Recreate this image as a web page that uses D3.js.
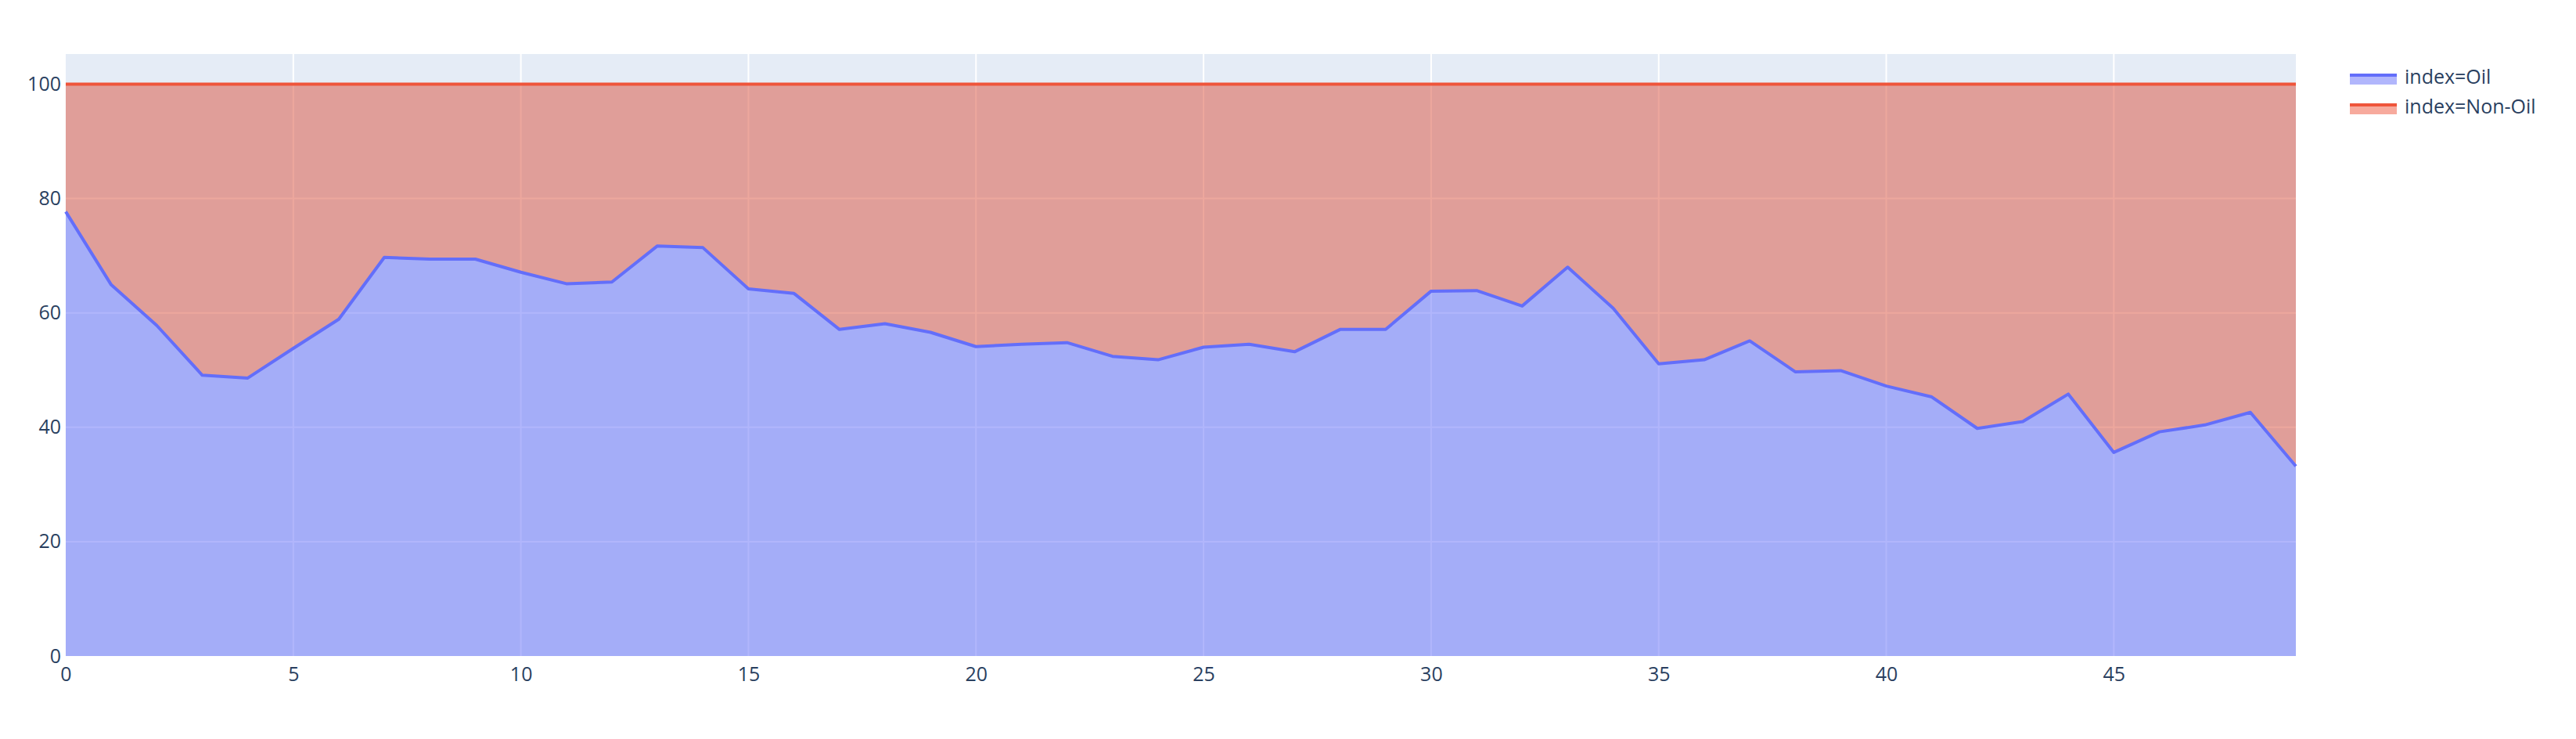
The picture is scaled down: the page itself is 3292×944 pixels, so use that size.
<!DOCTYPE html>
<html>
<head>
<meta charset="utf-8">
<script src="https://cdn.jsdelivr.net/npm/d3@7"></script>
<style>
  body { margin: 0; background: #fff; }
  text { font-family: "Open Sans", Arial, sans-serif; fill: #2a3f5f; }
</style>
</head>
<body>
<svg width="3292" height="944"></svg>
<script>
var oilShare = [77.7, 64.9, 57.8, 49.1, 48.6, 53.8, 58.9, 69.7, 69.4, 69.4,
  67.1, 65.1, 65.4, 71.7, 71.4, 64.2, 63.4, 57.1, 58.1, 56.6,
  54.1, 54.5, 54.8, 52.4, 51.8, 54.0, 54.5, 53.2, 57.1, 57.1,
  63.8, 63.9, 61.2, 68.0, 60.8, 51.1, 51.8, 55.1, 49.7, 49.9,
  47.2, 45.3, 39.8, 41.0, 45.8, 35.6, 39.2, 40.4, 42.6, 33.2];
var nonOilShare = oilShare.map(function(v) { return 100 - v; });
var seriesNames = ['index=Oil', 'index=Non-Oil'];
var xTicks = [0, 5, 10, 15, 20, 25, 30, 35, 40, 45];
var yTicks = [0, 20, 40, 60, 80, 100];

var LEFT = 84, RIGHT = 2934, TOP = 69, BOTTOM = 838;
var svg = d3.select('svg');

var x = d3.scaleLinear().domain([0, oilShare.length - 1]).range([LEFT, RIGHT]);
var y = d3.scaleLinear().domain([0, 105.26]).range([BOTTOM, TOP]);

svg.append('rect')
  .attr('x', LEFT).attr('y', TOP)
  .attr('width', RIGHT - LEFT).attr('height', BOTTOM - TOP)
  .attr('fill', '#E5ECF6');

// gridlines
svg.append('g').selectAll('line').data(xTicks.slice(1)).enter().append('line')
  .attr('x1', x).attr('x2', x).attr('y1', TOP).attr('y2', BOTTOM)
  .attr('stroke', '#fff').attr('stroke-width', 2);
svg.append('g').selectAll('line').data(yTicks.slice(1)).enter().append('line')
  .attr('y1', y).attr('y2', y).attr('x1', LEFT).attr('x2', RIGHT)
  .attr('stroke', '#fff').attr('stroke-width', 2);

var rows = oilShare.map(function(v, i) { return { i: i, oil: v, non: nonOilShare[i] }; });

var oilArea = d3.area().x(function(d) { return x(d.i); })
  .y0(y(0)).y1(function(d) { return y(d.oil); });
var nonArea = d3.area().x(function(d) { return x(d.i); })
  .y0(function(d) { return y(d.oil); }).y1(function(d) { return y(d.oil + d.non); });

svg.append('path').datum(rows).attr('d', oilArea).attr('fill', 'rgba(99,110,250,0.5)');
svg.append('path').datum(rows).attr('d', nonArea).attr('fill', 'rgba(220,80,60,0.5)');

svg.append('path').datum(rows)
  .attr('d', d3.line().x(function(d) { return x(d.i); }).y(function(d) { return y(d.oil + d.non); }))
  .attr('fill', 'none').attr('stroke', '#EF553B').attr('stroke-width', 4);
svg.append('path').datum(rows)
  .attr('d', d3.line().x(function(d) { return x(d.i); }).y(function(d) { return y(d.oil); }))
  .attr('fill', 'none').attr('stroke', '#636efa').attr('stroke-width', 4)
  .attr('stroke-linejoin', 'round');

// axes
var xAxis = svg.append('g').attr('transform', 'translate(0,' + BOTTOM + ')')
  .call(d3.axisBottom(x).tickValues(xTicks).tickSize(0).tickPadding(14));
xAxis.select('.domain').remove();
xAxis.selectAll('text').style('font-size', '25px').attr('fill', '#2a3f5f');

var yAxis = svg.append('g').attr('transform', 'translate(' + LEFT + ',0)')
  .call(d3.axisLeft(y).tickValues(yTicks).tickSize(0).tickPadding(6));
yAxis.select('.domain').remove();
yAxis.selectAll('text').style('font-size', '25px').attr('fill', '#2a3f5f');

// legend
var legendColors = [['#636efa', 'rgba(99,110,250,0.5)'], ['#EF553B', 'rgba(239,85,59,0.5)']];
var legend = svg.append('g').selectAll('g').data(seriesNames).enter().append('g')
  .attr('transform', function(d, i) { return 'translate(3003,' + (98 + i * 38) + ')'; });
legend.append('rect').attr('x', 0).attr('y', -1).attr('width', 60).attr('height', 11)
  .attr('fill', function(d, i) { return legendColors[i][1]; });
legend.append('line').attr('x1', 0).attr('x2', 60).attr('y1', -2).attr('y2', -2)
  .attr('stroke', function(d, i) { return legendColors[i][0]; }).attr('stroke-width', 4);
legend.append('text').attr('x', 70).attr('y', 0).attr('dy', '0.35em')
  .style('font-size', '25px').text(function(d) { return d; });
</script>
</body>
</html>
